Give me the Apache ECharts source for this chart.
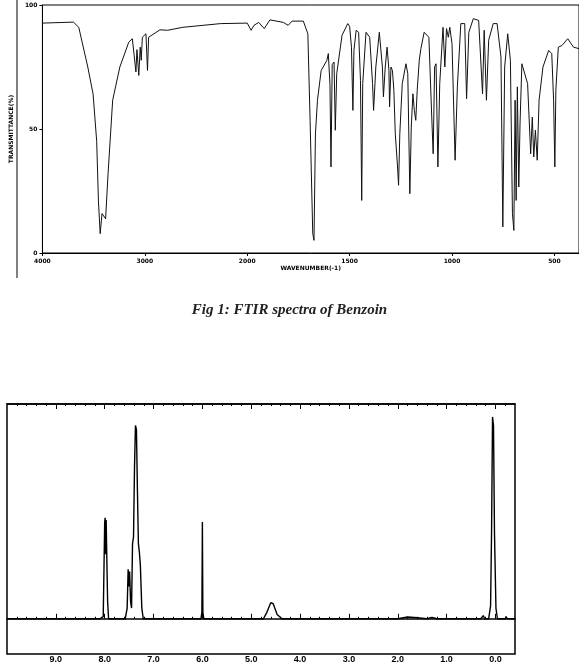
<!DOCTYPE html>
<html><head><meta charset="utf-8">
<script src="https://cdn.jsdelivr.net/npm/echarts@6/dist/echarts.min.js"></script>
<style>html,body{margin:0;background:#fff}#c{width:579px;height:668px}</style>
</head><body><div id="c"></div>
<script>
// FTIR: wavenumber (cm-1) and transmittance (%)
const irWave = [4000,3697,3645,3557,3505,3470,3453,3436,3418,3401,3383,3359,3314,3244,3157,3122,3105,3087,3077,3059,3045,3035,3024,2989,2974,2963,2852,2778,2630,2259,2000,1981,1967,1944,1917,1889,1824,1800,1781,1726,1704,1693,1680,1674,1667,1657,1639,1611,1604,1596,1591,1585,1576,1570,1563,1537,1509,1500,1491,1484,1479,1468,1456,1447,1441,1436,1420,1402,1388,1383,1372,1355,1340,1335,1326,1317,1308,1305,1298,1291,1284,1277,1266,1261,1255,1243,1225,1216,1206,1199,1191,1184,1177,1170,1160,1152,1136,1113,1099,1092,1085,1078,1069,1060,1044,1035,1027,1018,1011,1000,985,974,957,938,929,918,896,870,858,851,843,832,821,799,780,761,752,743,728,715,705,698,692,687,681,674,668,659,650,631,616,608,601,593,584,575,556,528,513,504,498,493,481,463,435,407,380];
const irT = [92.7,93.1,91,75,64,45,21,7.8,15.9,16.5,13.8,32,61.6,75,85,86.4,80,73,82,71.6,83,77.7,87,88.4,73.6,87,90,89.8,91,92.5,92.7,89.8,91.8,93,90.5,94,93,91.8,93.5,93.5,88.4,53.5,7.8,5.1,48,61.6,73.6,77.7,80.4,68,34.7,76,77,49.5,72.3,87.8,92.5,91.4,83,57.5,81.7,89.8,89,69.6,21.2,68.3,89,87,68.3,57.5,75,89,75,63,75,83,73.6,58.9,75,73.6,65.6,48,34.7,27.3,48,68.3,76.3,72.3,23.9,50.8,64.2,57.5,53.5,65.6,77.7,82.4,89,87,54.8,40,75,76.3,34.7,68.3,91,75,90.5,87,91,84.4,37.4,67,92.5,92.5,62.2,89,94.5,93.8,75,64.2,89.8,61.6,85.8,92.5,92.5,79,10.5,75,88.4,77.7,15.9,9.1,61.6,21.2,67,26.6,52,76.3,76.3,68.3,40,54.8,38.7,49.5,37.4,61.6,75,81.7,80.4,61.6,34.7,65.6,83,83.7,86.4,83,82.4];
const irTicks = [4000,3000,2000,1500,1000,500];
const irYTicks = [0,50,100];

// 1H NMR: shift (ppm) and relative intensity
const nmrPpm = [10,8.1,8.03,8.0,7.99,7.98,7.97,7.95,7.94,7.92,7.58,7.54,7.52,7.5,7.49,7.47,7.45,7.43,7.41,7.39,7.37,7.35,7.33,7.31,7.29,7.27,7.24,7.21,6.03,6.01,6.0,5.99,5.97,4.75,4.68,4.6,4.55,4.47,4.37,2.0,1.8,1.6,1.4,1.3,1.2,0.3,0.25,0.22,0.14,0.1,0.08,0.06,0.04,0.02,-0.01,-0.04,-0.2,-0.22,-0.24,-0.4];
const nmrI = [0,0,1,45,47,30,46,20,8,0,0,5,23,15,22,8,5,35,38,70,90,88,60,35,31,25,5,0,0,3,45,3,0,0,3,7.5,7,2,0,0,0.8,0.5,0,0.6,0,0,1.5,0,0,6,40,94,90,40,5,0,0,1,0,0];
const nmrTicks = [9,8,7,6,5,4,3,2,1,0];

// IR axis is scale-expanded below 2000 cm-1
const irPos = w => w >= 2000 ? (4000 - w) / 1000 : 2 + (2000 - w) / 500;
const irWaveOf = p => p <= 2 ? 4000 - p * 1000 : 2000 - (p - 2) * 500;

const chart = echarts.init(document.getElementById('c'));
const tiny = { fontFamily: 'DejaVu Sans', fontSize: 6, fontWeight: 'bold', color: '#000' };
const black = { lineStyle: { color: '#000', width: 1 } };

chart.setOption({
  animation: false,
  grid: [
    { left: 40, right: 0, top: 5, bottom: 415, show: true, borderColor: '#000', borderWidth: 1 },
    { left: 7, right: 64, top: 404, bottom: 14, show: true, borderColor: '#000', borderWidth: 1.5 }
  ],
  xAxis: [
    { gridIndex: 0, type: 'value', min: 0, max: irPos(380),
      axisLine: black, splitLine: { show: false },
      axisTick: { customValues: irTicks.map(irPos), length: 3, lineStyle: { color: '#000' } },
      axisLabel: { customValues: irTicks.map(irPos), formatter: v => String(Math.round(irWaveOf(v))), ...tiny, margin: 5 },
      name: 'WAVENUMBER(-1)', nameLocation: 'middle', nameGap: 12, nameTextStyle: tiny },
    { gridIndex: 1, type: 'value', min: -0.4, max: 10, inverse: true,
      axisLine: { lineStyle: { color: '#000', width: 1.5 } }, splitLine: { show: false },
      axisTick: { inside: true, customValues: nmrTicks, length: 5, lineStyle: { color: '#000' } },
      minorTick: { show: true, splitNumber: 10, length: 2, lineStyle: { color: '#000' } },
      axisLabel: { customValues: nmrTicks, formatter: v => v.toFixed(1), fontFamily: 'Liberation Sans', fontSize: 9, fontWeight: 'bold', color: '#000', margin: 1 } },
    { gridIndex: 1, type: 'value', position: 'top', min: -0.4, max: 10, inverse: true,
      axisLine: { lineStyle: { color: '#000', width: 1.5 } }, splitLine: { show: false },
      axisTick: { inside: true, customValues: nmrTicks, length: 5, lineStyle: { color: '#000' } },
      minorTick: { show: true, splitNumber: 10, length: 2, lineStyle: { color: '#000' } },
      axisLabel: { show: false } }
  ],
  yAxis: [
    { gridIndex: 0, type: 'value', min: 0, max: 100,
      axisLine: { show: true, ...black }, splitLine: { show: false },
      axisTick: { customValues: irYTicks, length: 3, lineStyle: { color: '#000' } },
      axisLabel: { customValues: irYTicks, ...tiny, margin: 5 },
      name: 'TRANSMITTANCE(%)', nameLocation: 'middle', nameGap: 16, nameTextStyle: tiny },
    { gridIndex: 1, type: 'value', min: -16.4, max: 100, show: false }
  ],
  series: [
    { type: 'line', xAxisIndex: 0, yAxisIndex: 0, symbol: 'none', silent: true,
      lineStyle: { color: '#111', width: 1 },
      data: irWave.map((w, i) => [irPos(w), irT[i]]) },
    { type: 'line', xAxisIndex: 1, yAxisIndex: 1, symbol: 'none', silent: true,
      lineStyle: { color: '#000', width: 1.4 },
      data: nmrPpm.map((p, i) => [p, nmrI[i]]) }
  ],
  graphic: [
    { type: 'line', shape: { x1: 17, y1: 0, x2: 17, y2: 278 }, style: { stroke: '#000', lineWidth: 1 } },
    { type: 'text', left: 'center', top: 303,
      style: { text: 'Fig 1: FTIR spectra of Benzoin', font: 'italic bold 15px "Liberation Serif"', fill: '#222' } }
  ]
});
</script></body></html>
